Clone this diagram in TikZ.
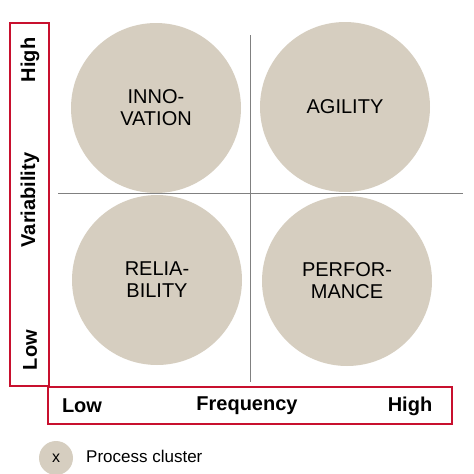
\documentclass[tikz,border=0pt]{standalone}
\usepackage{fontspec}
\setmainfont{Liberation Sans}
\definecolor{beige}{RGB}{214,206,192}
\definecolor{redbox}{RGB}{200,16,46}
\definecolor{gridgray}{RGB}{128,128,128}
\tikzset{
  cluster/.style={circle, fill=beige, minimum size=170pt, inner sep=0pt, align=center,
    font=\fontsize{20}{22}\selectfont},
  axislabel/.style={font=\fontsize{20}{22}\selectfont\bfseries, inner sep=0pt},
  redframe/.style={draw=redbox, line width=2pt},
  gridline/.style={draw=gridgray, line width=0.8pt}
}
\begin{document}
\begin{tikzpicture}[x=1pt,y=-1pt]
\useasboundingbox (0,0) rectangle (474,474);
% grid lines
\coordinate (vt) at (250,35);
\coordinate (vb) at (250,382);
\coordinate (hl) at (58,193);
\coordinate (hr) at (463,193);
\draw[gridline] (vt) -- (vb);
\draw[gridline] (hl) -- (hr);
% clusters
\node[cluster] (inno) at (156,108) {INNO-\\VATION};
\node[cluster] (agil) at (345,107) {AGILITY};
\node[cluster] (reli) at (157,280) {RELIA-\\BILITY};
\node[cluster] (perf) at (347,281) {PERFOR-\\MANCE};
% axis frames
\node[redframe, minimum width=39pt, minimum height=363pt, inner sep=0pt] (yframe) at (29.5,204.5) {};
\node[redframe, minimum width=404pt, minimum height=37pt, inner sep=0pt] (xframe) at (250,405.5) {};
% y labels
\node[axislabel, rotate=90] (yhigh) at (30,60) {High};
\node[axislabel, rotate=90] (yvar) at (30,200) {Variability};
\node[axislabel, rotate=90] (ylow) at (30,350) {Low};
% x labels
\node[axislabel] (xlow) at (82,406) {Low};
\node[axislabel] (xfreq) at (247,406) {Frequency};
\node[axislabel] (xhigh) at (410,406) {High};
% legend
\node[circle, fill=beige, minimum size=34pt, inner sep=0pt, font=\fontsize{16}{18}\selectfont] (legc) at (56,458) {x};
\node[anchor=west, inner sep=0pt, font=\fontsize{17}{19}\selectfont] (legt) at (86,456) {Process cluster};
\end{tikzpicture}
\end{document}
